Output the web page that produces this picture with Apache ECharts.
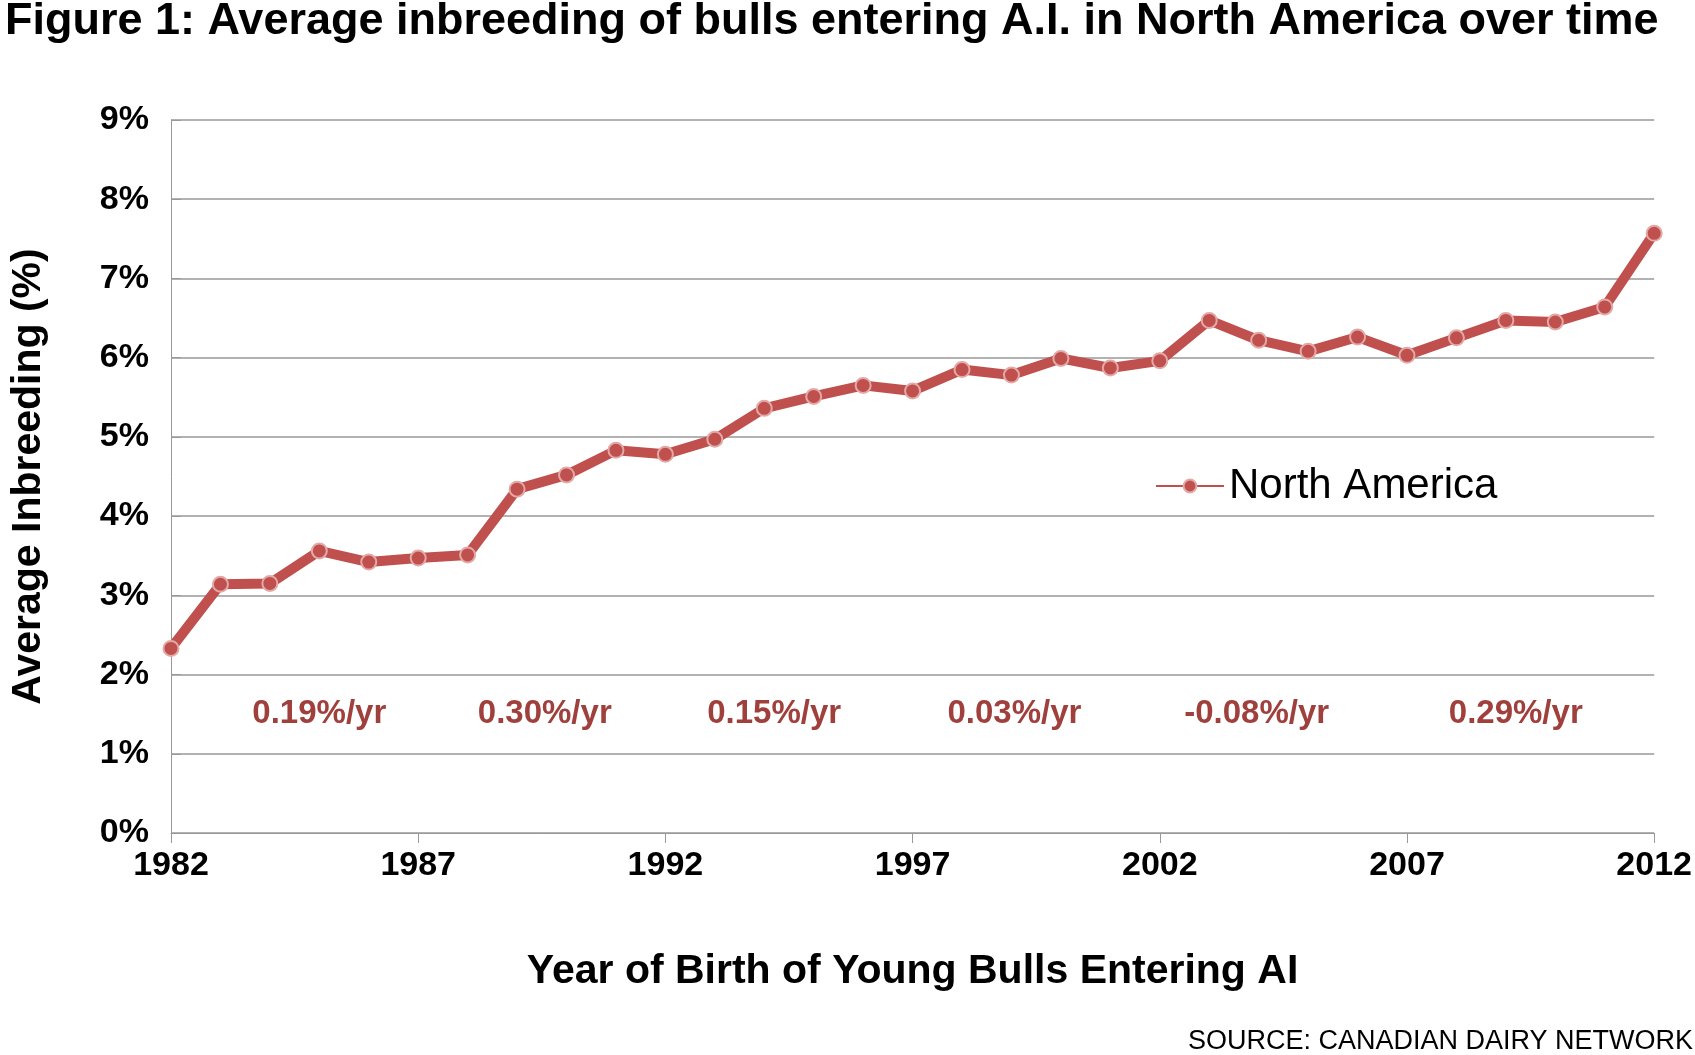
<!DOCTYPE html><html><head><meta charset="utf-8"><script src="https://cdn.jsdelivr.net/npm/echarts@6/dist/echarts.min.js"></script>
<style>body{margin:0;background:#fff}#c{width:1695px;height:1055px}</style></head><body><div id="c"></div><script>
const years=[1982,1983,1984,1985,1986,1987,1988,1989,1990,1991,1992,1993,1994,1995,1996,1997,1998,1999,2000,2001,2002,2003,2004,2005,2006,2007,2008,2009,2010,2011,2012];
const inbreeding=[2.33,3.14,3.15,3.56,3.42,3.47,3.51,4.34,4.52,4.83,4.78,4.97,5.36,5.51,5.65,5.58,5.85,5.78,5.99,5.87,5.96,6.47,6.22,6.08,6.26,6.03,6.25,6.47,6.45,6.64,7.57];
const rateLabels=['0.19%/yr','0.30%/yr','0.15%/yr','0.03%/yr','-0.08%/yr','0.29%/yr'];
const rateX=[1985,1989.56,1994.2,1999.06,2003.96,2009.2];
const rateY=1.5;
const F='Liberation Sans, Arial, sans-serif';
const chart=echarts.init(document.getElementById('c'));
chart.setOption({
 animation:false,
 title:{text:'Figure 1: Average inbreeding of bulls entering A.I. in North America over time',left:0,top:-6,textStyle:{fontFamily:F,fontWeight:'bold',fontSize:45,color:'#000'}},
 graphic:[{type:'text',right:2,bottom:0,style:{text:'SOURCE: CANADIAN DAIRY NETWORK',font:'27px '+F,fill:'#000'}}],
 legend:{left:1150,top:460,itemWidth:68,itemHeight:16,itemGap:10,textStyle:{fontFamily:F,fontSize:42,color:'#000'},data:['North America']},
 grid:{left:168,right:39,top:120,bottom:222},
 xAxis:{type:'value',min:1982,max:2012,interval:5,name:'Year of Birth of Young Bulls Entering AI',nameLocation:'middle',nameGap:118,
  nameTextStyle:{fontFamily:F,fontWeight:'bold',fontSize:41,color:'#000'},
  axisLine:{lineStyle:{color:'#999'}},axisTick:{show:true,length:10,lineStyle:{color:'#999'}},splitLine:{show:false},
  axisLabel:{fontFamily:F,fontWeight:'bold',fontSize:34,color:'#000',margin:16,formatter:v=>String(v)}},
 yAxis:{type:'value',min:0,max:9,interval:1,name:'Average Inbreeding (%)',nameLocation:'middle',nameGap:122,
  nameTextStyle:{fontFamily:F,fontWeight:'bold',fontSize:41,color:'#000'},
  axisLine:{show:true,lineStyle:{color:'#999'}},axisTick:{show:true,length:-10,lineStyle:{color:'#999'}},splitLine:{lineStyle:{color:'#999',width:1.5}},
  axisLabel:{fontFamily:F,fontWeight:'bold',fontSize:34,color:'#000',margin:22,formatter:v=>v+'%'}},
 series:[{name:'North America',type:'line',data:years.map((y,i)=>[y,inbreeding[i]]),
  lineStyle:{color:'#c0504d',width:10},itemStyle:{color:'#c0504d',borderColor:'#e3a9a7',borderWidth:2},
  symbol:'circle',symbolSize:15,
  markPoint:{symbol:'circle',symbolSize:1,itemStyle:{color:'transparent'},
   label:{show:true,position:'inside',fontFamily:F,fontWeight:'bold',fontSize:33,color:'#a0403d',formatter:p=>p.name},
   data:rateLabels.map((t,i)=>({name:t,coord:[rateX[i],rateY]}))}}]
});
</script></body></html>
